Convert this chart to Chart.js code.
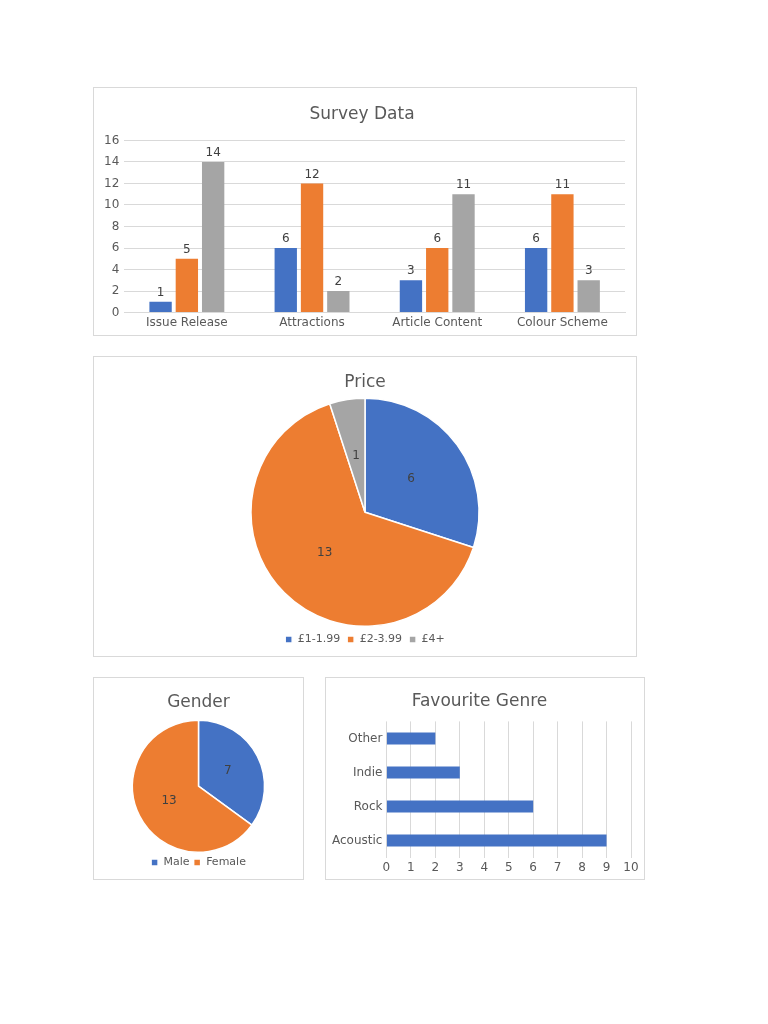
<!DOCTYPE html>
<html>
<head>
<meta charset="utf-8">
<script src="https://cdn.jsdelivr.net/npm/chart.js@4/dist/chart.umd.min.js"></script>
<style>
  body { margin: 0; background: #ffffff; width: 768px; height: 1024px; position: relative; }
  .box { position: absolute; border: 1px solid #d9d9d9; background: #fff; box-sizing: border-box; }
  #box1 { left: 93px; top: 87px; width: 544px; height: 249px; }
  #box2 { left: 93px; top: 356px; width: 544px; height: 301px; }
  #box3 { left: 93px; top: 677px; width: 211px; height: 203px; }
  #box4 { left: 325px; top: 677px; width: 320px; height: 203px; }
</style>
</head>
<body>
<div class="box" id="box1"><canvas id="surveyChart"></canvas></div>
<div class="box" id="box2"><canvas id="priceChart"></canvas></div>
<div class="box" id="box3"><canvas id="genderChart"></canvas></div>
<div class="box" id="box4"><canvas id="genreChart"></canvas></div>
<script>
// data
const surveyCategories = ["Issue Release", "Attractions", "Article Content", "Colour Scheme"];
const surveySeries1 = [1, 6, 3, 6];
const surveySeries2 = [5, 12, 6, 11];
const surveySeries3 = [14, 2, 11, 3];
const surveyMax = 16;
const surveyStep = 2;

const priceLabels = ["£1-1.99", "£2-3.99", "£4+"];
const priceValues = [6, 13, 1];

const genderLabels = ["Male", "Female"];
const genderValues = [7, 13];

const genreLabels = ["Acoustic", "Rock", "Indie", "Other"];
const genreValues = [9, 6, 3, 2];
const genreMax = 10;

const blue = "#4472c4";
const orange = "#ed7d31";
const grey = "#a5a5a5";
const textGrey = "#595959";
const gridGrey = "#d9d9d9";

Chart.defaults.font.family = "'DejaVu Sans', sans-serif";
Chart.defaults.color = textGrey;
Chart.defaults.animation = false;

// draws the value of each bar / slice
const valueLabels = {
    id: "valueLabels",
    afterDatasetsDraw(chart) {
        const ctx = chart.ctx;
        const isPie = chart.config.type === "pie";
        ctx.save();
        ctx.font = "12px 'DejaVu Sans', sans-serif";
        ctx.fillStyle = "#404040";
        ctx.textAlign = "center";
        chart.data.datasets.forEach((ds, i) => {
            const meta = chart.getDatasetMeta(i);
            meta.data.forEach((el, j) => {
                const v = ds.data[j];
                if (isPie) {
                    const p = el.tooltipPosition();
                    ctx.textBaseline = "middle";
                    ctx.fillText(v, p.x, p.y);
                } else {
                    ctx.textBaseline = "bottom";
                    ctx.fillText(v, el.x, el.y - 3);
                }
            });
        });
        ctx.restore();
    }
};

function titleOpts(text, size, top, bottom) {
    return {
        display: true,
        text: text,
        color: textGrey,
        font: { size: size, weight: "normal" },
        padding: { top: top, bottom: bottom }
    };
}

new Chart(document.getElementById("surveyChart"), {
    type: "bar",
    data: {
        labels: surveyCategories,
        datasets: [
            { label: "Series1", data: surveySeries1, backgroundColor: blue },
            { label: "Series2", data: surveySeries2, backgroundColor: orange },
            { label: "Series3", data: surveySeries3, backgroundColor: grey }
        ]
    },
    options: {
        responsive: true,
        maintainAspectRatio: false,
        layout: { padding: { left: 5, right: 11, bottom: 2 } },
        datasets: { bar: { categoryPercentage: 0.63, barPercentage: 0.85 } },
        plugins: {
            legend: { display: false },
            tooltip: { enabled: false },
            title: titleOpts("Survey Data", 17, 16, 16)
        },
        scales: {
            x: {
                grid: { display: false, drawTicks: false },
                border: { color: gridGrey },
                ticks: { font: { size: 12 }, color: textGrey, padding: 3 }
            },
            y: {
                min: 0,
                max: surveyMax,
                ticks: { stepSize: surveyStep, font: { size: 12 }, color: textGrey, padding: 5 },
                grid: { color: gridGrey, drawTicks: false },
                border: { display: false }
            }
        }
    },
    plugins: [valueLabels]
});

function pieChart(id, labels, values, title, pad) {
    return new Chart(document.getElementById(id), {
        type: "pie",
        data: {
            labels: labels,
            datasets: [{
                data: values,
                backgroundColor: [blue, orange, grey],
                borderColor: "#ffffff",
                borderWidth: 1.5
            }]
        },
        options: {
            responsive: true,
            maintainAspectRatio: false,
            layout: { padding: pad.layout },
            plugins: {
                tooltip: { enabled: false },
                title: titleOpts(title, 17, pad.titleTop, pad.titleBottom),
                legend: {
                    position: "bottom",
                    labels: {
                        boxWidth: 7,
                        boxHeight: 7,
                        padding: pad.legend,
                        color: textGrey,
                        font: { size: 11 }
                    }
                }
            }
        },
        plugins: [valueLabels]
    });
}

pieChart("priceChart", priceLabels, priceValues, "Price",
    { layout: { top: 0, bottom: 1 }, titleTop: 15, titleBottom: 5, legend: 7 });

pieChart("genderChart", genderLabels, genderValues, "Gender",
    { layout: { top: 0, bottom: 1 }, titleTop: 14, titleBottom: 7, legend: 4 });

new Chart(document.getElementById("genreChart"), {
    type: "bar",
    data: {
        labels: genreLabels,
        datasets: [{ label: "Series1", data: genreValues, backgroundColor: blue }]
    },
    options: {
        indexAxis: "y",
        responsive: true,
        maintainAspectRatio: false,
        layout: { padding: { left: 2, right: 13, bottom: 1 } },
        datasets: { bar: { categoryPercentage: 0.7, barPercentage: 0.5 } },
        plugins: {
            legend: { display: false },
            tooltip: { enabled: false },
            title: titleOpts("Favourite Genre", 17, 13, 10)
        },
        scales: {
            x: {
                min: 0,
                max: genreMax,
                ticks: { stepSize: 1, font: { size: 12 }, color: textGrey, padding: 3 },
                grid: { color: gridGrey, drawTicks: false },
                border: { display: false }
            },
            y: {
                reverse: true,
                grid: { display: false, drawTicks: false },
                border: { display: false },
                ticks: { font: { size: 12 }, color: textGrey, padding: 4 }
            }
        }
    }
});
</script>
</body>
</html>
